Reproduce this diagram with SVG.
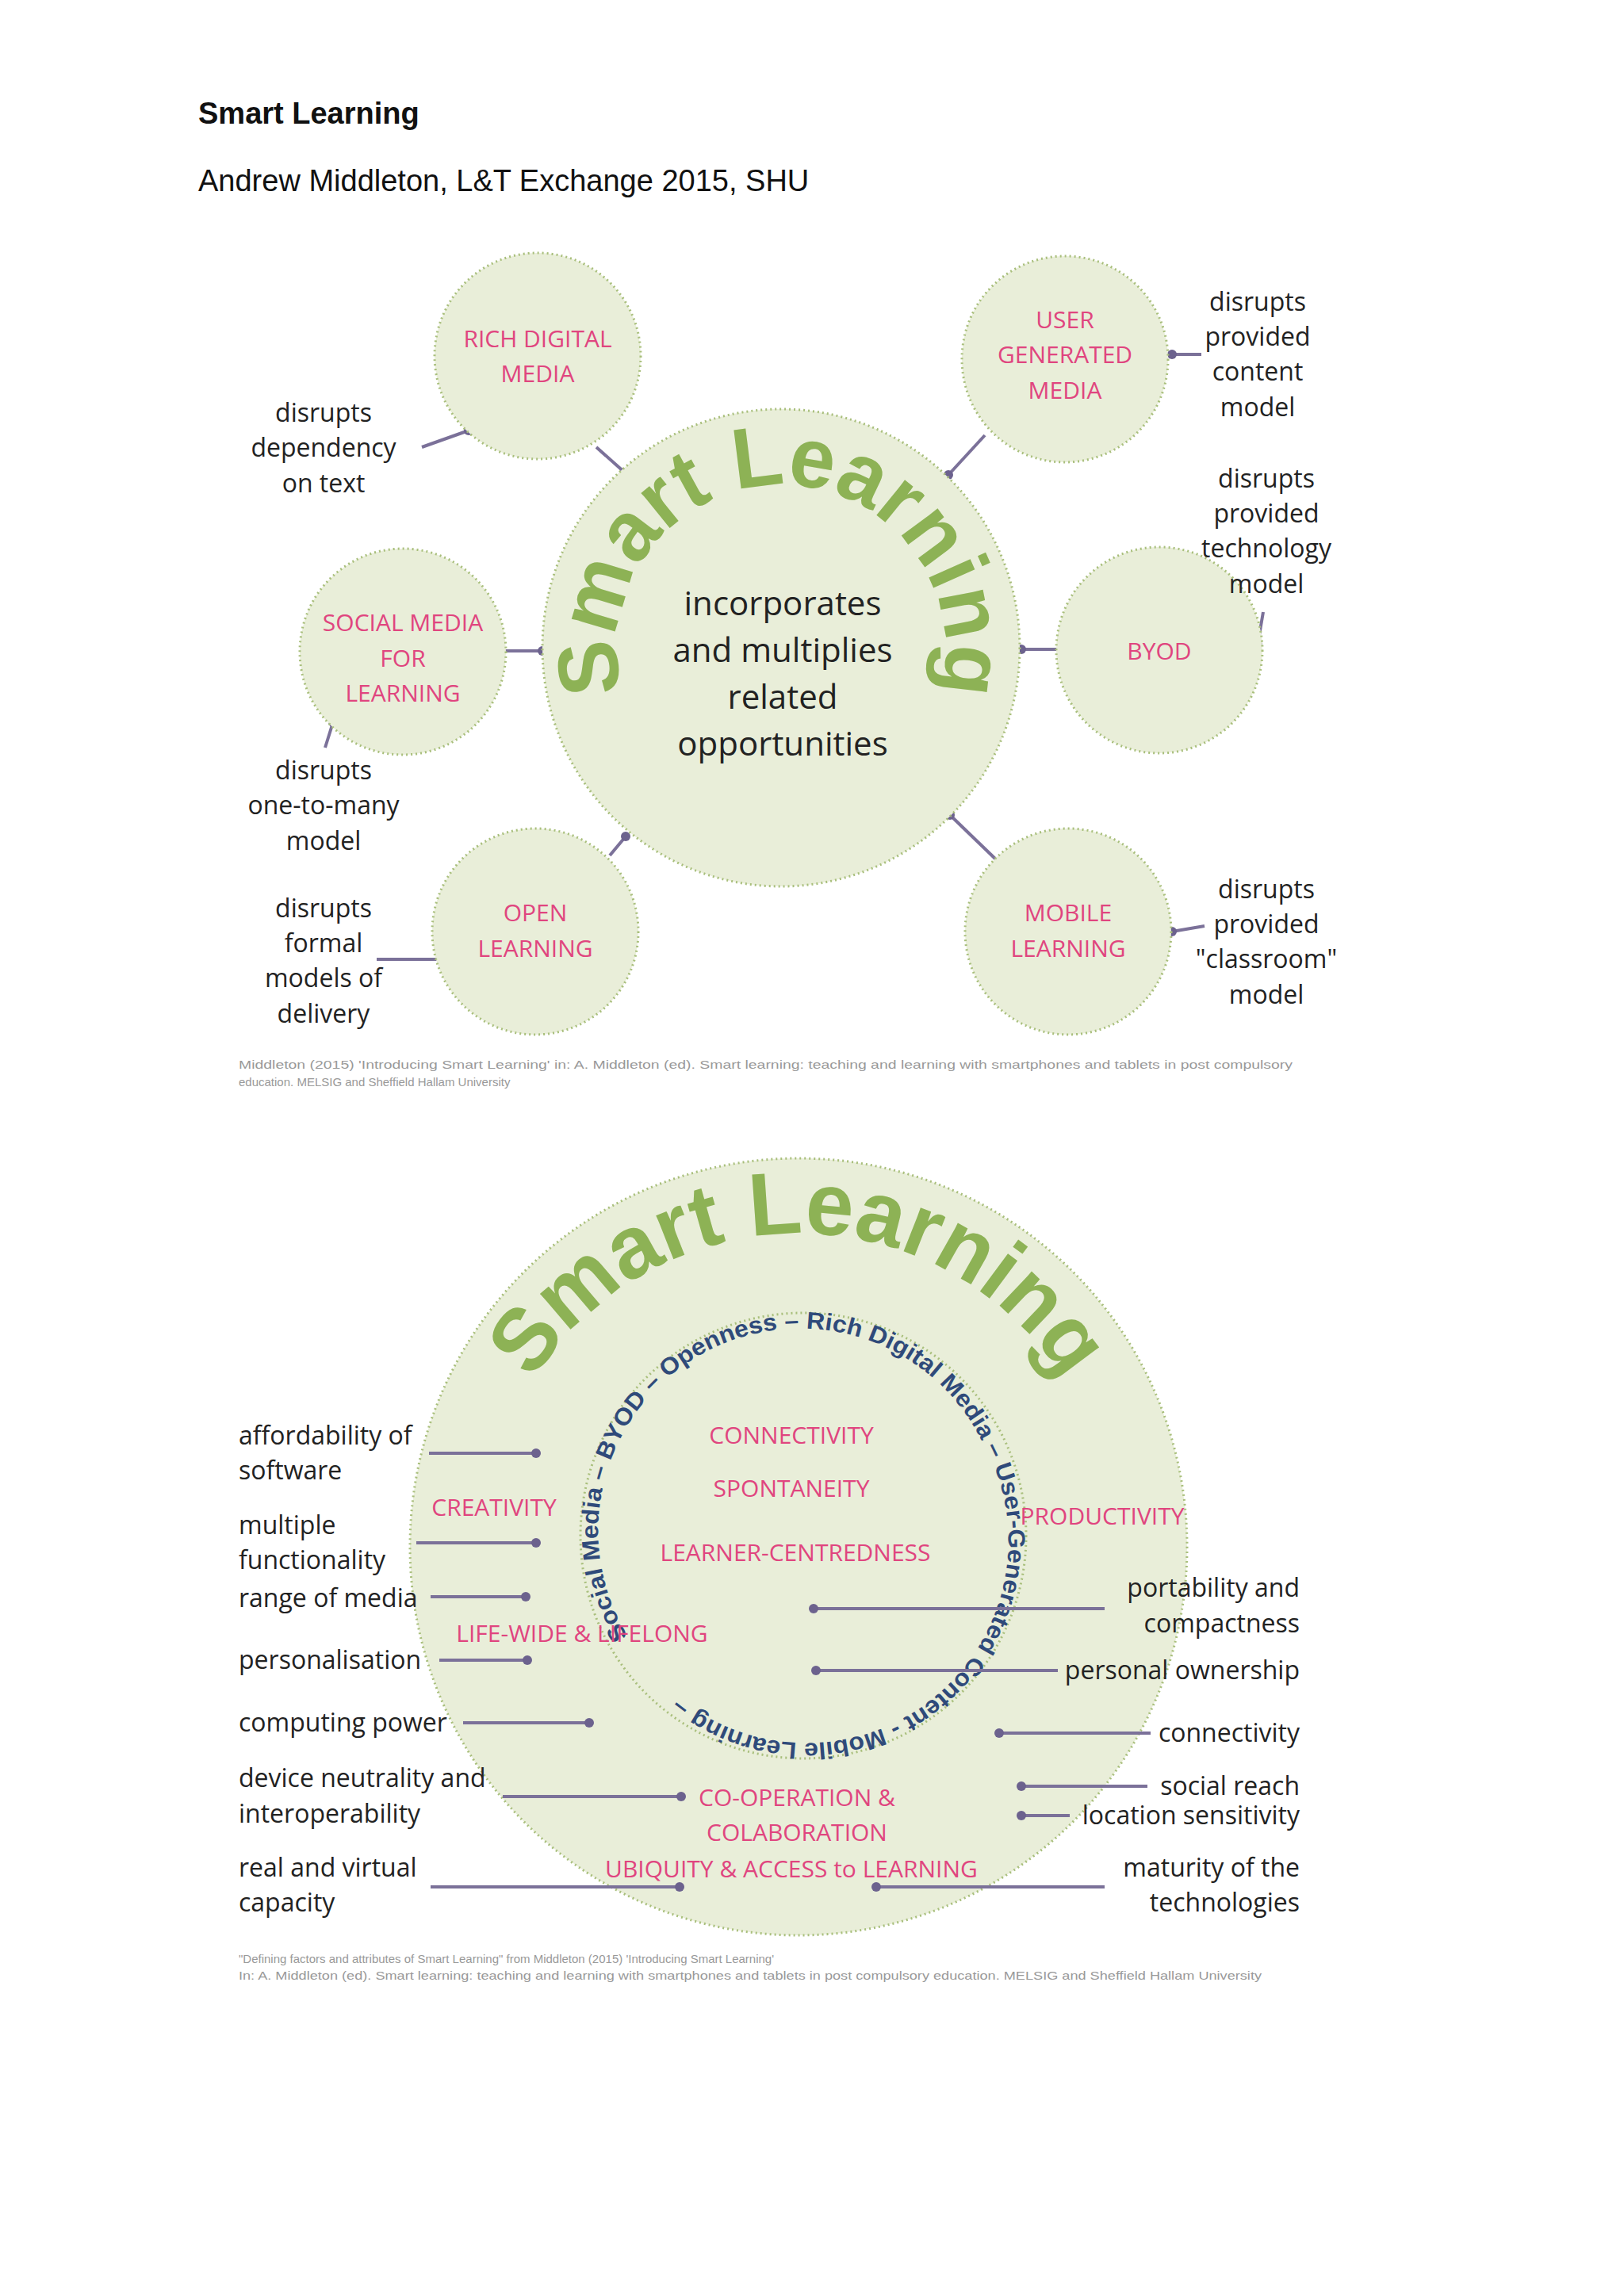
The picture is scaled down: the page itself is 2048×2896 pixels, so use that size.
<svg xmlns="http://www.w3.org/2000/svg" width="2048" height="2896" viewBox="0 0 2048 2896">
<style>
.t{font-family:"Liberation Sans",Arial,sans-serif;fill:#111}
.b{font-family:"Open Sans","Liberation Sans",sans-serif;font-size:32px;fill:#222}
.p{font-family:"Open Sans","Liberation Sans",sans-serif;font-size:30px;fill:#e0457f;text-anchor:middle}
.c{font-family:"Open Sans","Liberation Sans",sans-serif;font-size:32px;fill:#222;text-anchor:middle}
.ct{font-family:"Open Sans","Liberation Sans",sans-serif;font-size:42px;fill:#222;text-anchor:middle}
.n{fill:#e9eed9;stroke:#a9bf7c;stroke-width:3;stroke-dasharray:2 4}
.ln{stroke:#7b7199;stroke-width:4;fill:none}
.d{fill:#6c628e}
.g{font-family:"Liberation Sans",sans-serif;font-weight:bold;fill:#8db255}
.f{font-family:"Liberation Sans",sans-serif;font-size:15px;fill:#999}
</style>
<defs>
<path id="arc1" d="M 790 888 A 207 207 0 1 1 1180 888"/>
<path id="arc2" d="M 668 1748 A 395 395 0 0 1 1346 1748"/>
<path id="ring" d="M 792 2064 A 255 255 0 1 1 1234 1810 A 255 255 0 1 1 792 2064"/>
</defs>
<rect width="2048" height="2896" fill="#fff"/>
<text class="t" x="250" y="156" font-size="38" font-weight="bold">Smart Learning</text>
<text class="t" x="250" y="241" font-size="38">Andrew Middleton, L&amp;T Exchange 2015, SHU</text>

<g id="top-connectors">
<line class="ln" x1="532" y1="564" x2="591" y2="543"/><circle class="d" cx="591" cy="543" r="6"/>
<line class="ln" x1="752" y1="564" x2="789" y2="597"/><circle class="d" cx="789" cy="597" r="6"/>
<line class="ln" x1="1242" y1="549" x2="1196" y2="599"/><circle class="d" cx="1196" cy="599" r="6"/>
<line class="ln" x1="1478" y1="447" x2="1515" y2="447"/><circle class="d" cx="1478" cy="447" r="6"/>
<line class="ln" x1="1593" y1="772" x2="1586" y2="813"/><circle class="d" cx="1586" cy="813" r="6"/>
<line class="ln" x1="1288" y1="819" x2="1334" y2="819"/><circle class="d" cx="1288" cy="819" r="6"/>
<line class="ln" x1="636" y1="821" x2="684" y2="821"/><circle class="d" cx="684" cy="821" r="6"/>
<line class="ln" x1="420" y1="911" x2="410" y2="943"/><circle class="d" cx="420" cy="911" r="6"/>
<line class="ln" x1="769" y1="1079" x2="789" y2="1055"/><circle class="d" cx="789" cy="1055" r="6"/>
<line class="ln" x1="475" y1="1210" x2="564" y2="1210"/><circle class="d" cx="564" cy="1210" r="6"/>
<line class="ln" x1="1257" y1="1085" x2="1198" y2="1028"/><circle class="d" cx="1198" cy="1028" r="6"/>
<line class="ln" x1="1478" y1="1175" x2="1519" y2="1168"/><circle class="d" cx="1478" cy="1175" r="6"/>
</g>

<g id="center"><circle class="n" cx="985" cy="817" r="301"/>
<text class="g" font-size="108"><textPath href="#arc1" startOffset="50%" text-anchor="middle" textLength="760" lengthAdjust="spacingAndGlyphs">Smart Learning</textPath></text>
<text class="ct"><tspan x="987" y="776">incorporates</tspan><tspan x="987" y="835">and multiplies</tspan><tspan x="987" y="894">related</tspan><tspan x="987" y="953">opportunities</tspan></text></g>
<g id="rdm"><circle class="n" cx="678" cy="449" r="130"/><text class="p"><tspan x="678" y="438">RICH DIGITAL</tspan><tspan x="678" y="482">MEDIA</tspan></text></g>
<g id="ugm"><circle class="n" cx="1343" cy="453" r="130"/><text class="p"><tspan x="1343" y="414">USER</tspan><tspan x="1343" y="458">GENERATED</tspan><tspan x="1343" y="503">MEDIA</tspan></text></g>
<g id="smfl"><circle class="n" cx="508" cy="822" r="130"/><text class="p"><tspan x="508" y="796">SOCIAL MEDIA</tspan><tspan x="508" y="841">FOR</tspan><tspan x="508" y="885">LEARNING</tspan></text></g>
<g id="byod"><circle class="n" cx="1462" cy="820" r="130"/><text class="p" x="1462" y="832">BYOD</text></g>
<g id="open"><circle class="n" cx="675" cy="1175" r="130"/><text class="p"><tspan x="675" y="1162">OPEN</tspan><tspan x="675" y="1207">LEARNING</tspan></text></g>
<g id="mobile"><circle class="n" cx="1347" cy="1175" r="130"/><text class="p"><tspan x="1347" y="1162">MOBILE</tspan><tspan x="1347" y="1207">LEARNING</tspan></text></g>

<g id="top-labels">
<text class="c"><tspan x="408" y="532">disrupts</tspan><tspan x="408" y="576">dependency</tspan><tspan x="408" y="621">on text</tspan></text>
<text class="c"><tspan x="1586" y="392">disrupts</tspan><tspan x="1586" y="436">provided</tspan><tspan x="1586" y="480">content</tspan><tspan x="1586" y="525">model</tspan></text>
<text class="c"><tspan x="1597" y="615">disrupts</tspan><tspan x="1597" y="659">provided</tspan><tspan x="1597" y="703">technology</tspan><tspan x="1597" y="748">model</tspan></text>
<text class="c"><tspan x="408" y="983">disrupts</tspan><tspan x="408" y="1027">one-to-many</tspan><tspan x="408" y="1072">model</tspan></text>
<text class="c"><tspan x="408" y="1157">disrupts</tspan><tspan x="408" y="1201">formal</tspan><tspan x="408" y="1245">models of</tspan><tspan x="408" y="1290">delivery</tspan></text>
<text class="c"><tspan x="1597" y="1133">disrupts</tspan><tspan x="1597" y="1177">provided</tspan><tspan x="1597" y="1221">"classroom"</tspan><tspan x="1597" y="1266">model</tspan></text>
</g>
<text class="f" x="301" y="1348" textLength="1329" lengthAdjust="spacingAndGlyphs">Middleton (2015) 'Introducing Smart Learning' in: A. Middleton (ed). Smart learning: teaching and learning with smartphones and tablets in post compulsory</text>
<text class="f" x="301" y="1370">education. MELSIG and Sheffield Hallam University</text>

<g id="outer"><circle class="n" cx="1007" cy="1951" r="490" fill="#eef2e0"/>
<text class="g" font-size="112"><textPath href="#arc2" startOffset="50%" text-anchor="middle" textLength="800" lengthAdjust="spacingAndGlyphs">Smart Learning</textPath></text></g>
<g id="inner"><circle class="n" cx="1013" cy="1937" r="281"/>
<text font-family="Liberation Sans,sans-serif" font-weight="bold" font-size="30" fill="#2f4a7a"><textPath href="#ring" textLength="1530" lengthAdjust="spacingAndGlyphs">Social Media – BYOD – Openness – Rich Digital Media – User-Generated Content -  Mobile Learning –</textPath></text></g>

<g id="attributes">
<text class="p" x="998" y="1821">CONNECTIVITY</text>
<text class="p" x="998" y="1888">SPONTANEITY</text>
<text class="p" x="1003" y="1969">LEARNER-CENTREDNESS</text>
<text class="p" x="623" y="1912">CREATIVITY</text>
<text class="p" x="1390" y="1923">PRODUCTIVITY</text>
<text class="p" x="734" y="2071">LIFE-WIDE &amp; LIFELONG</text>
<text class="p" x="1005" y="2278">CO-OPERATION &amp;</text>
<text class="p" x="1005" y="2322">COLABORATION</text>
<text class="p" x="998" y="2368">UBIQUITY &amp; ACCESS to LEARNING</text>
</g>

<g id="bottom-connectors">
<line class="ln" x1="541" y1="1833" x2="676" y2="1833"/><circle class="d" cx="676" cy="1833" r="6"/>
<line class="ln" x1="525" y1="1946" x2="676" y2="1946"/><circle class="d" cx="676" cy="1946" r="6"/>
<line class="ln" x1="543" y1="2014" x2="663" y2="2014"/><circle class="d" cx="663" cy="2014" r="6"/>
<line class="ln" x1="554" y1="2094" x2="665" y2="2094"/><circle class="d" cx="665" cy="2094" r="6"/>
<line class="ln" x1="584" y1="2173" x2="743" y2="2173"/><circle class="d" cx="743" cy="2173" r="6"/>
<line class="ln" x1="634" y1="2266" x2="859" y2="2266"/><circle class="d" cx="859" cy="2266" r="6"/>
<line class="ln" x1="543" y1="2380" x2="857" y2="2380"/><circle class="d" cx="857" cy="2380" r="6"/>
<line class="ln" x1="1026" y1="2029" x2="1393" y2="2029"/><circle class="d" cx="1026" cy="2029" r="6"/>
<line class="ln" x1="1029" y1="2107" x2="1334" y2="2107"/><circle class="d" cx="1029" cy="2107" r="6"/>
<line class="ln" x1="1260" y1="2186" x2="1451" y2="2186"/><circle class="d" cx="1260" cy="2186" r="6"/>
<line class="ln" x1="1288" y1="2253" x2="1447" y2="2253"/><circle class="d" cx="1288" cy="2253" r="6"/>
<line class="ln" x1="1288" y1="2290" x2="1349" y2="2290"/><circle class="d" cx="1288" cy="2290" r="6"/>
<line class="ln" x1="1105" y1="2380" x2="1393" y2="2380"/><circle class="d" cx="1105" cy="2380" r="6"/>
</g>

<g id="bottom-labels">
<text class="b"><tspan x="301" y="1822">affordability of</tspan><tspan x="301" y="1866">software</tspan></text>
<text class="b"><tspan x="301" y="1935">multiple</tspan><tspan x="301" y="1979">functionality</tspan></text>
<text class="b" x="301" y="2027">range of media</text>
<text class="b" x="301" y="2105">personalisation</text>
<text class="b" x="301" y="2184">computing power</text>
<text class="b"><tspan x="301" y="2254">device neutrality and</tspan><tspan x="301" y="2299">interoperability</tspan></text>
<text class="b"><tspan x="301" y="2367">real and virtual</tspan><tspan x="301" y="2411">capacity</tspan></text>
<g text-anchor="end">
<text class="b"><tspan x="1639" y="2014">portability and</tspan><tspan x="1639" y="2059">compactness</tspan></text>
<text class="b" x="1639" y="2118">personal ownership</text>
<text class="b" x="1639" y="2197">connectivity</text>
<text class="b" x="1639" y="2264">social reach</text>
<text class="b" x="1639" y="2301">location sensitivity</text>
<text class="b"><tspan x="1639" y="2367">maturity of the</tspan><tspan x="1639" y="2411">technologies</tspan></text>
</g></g>
<text class="f" x="301" y="2476">"Defining factors and attributes of Smart Learning" from Middleton (2015) 'Introducing Smart Learning'</text>
<text class="f" x="301" y="2497" textLength="1290" lengthAdjust="spacingAndGlyphs">In: A. Middleton (ed). Smart learning: teaching and learning with smartphones and tablets in post compulsory education. MELSIG and Sheffield Hallam University</text>
</svg>
